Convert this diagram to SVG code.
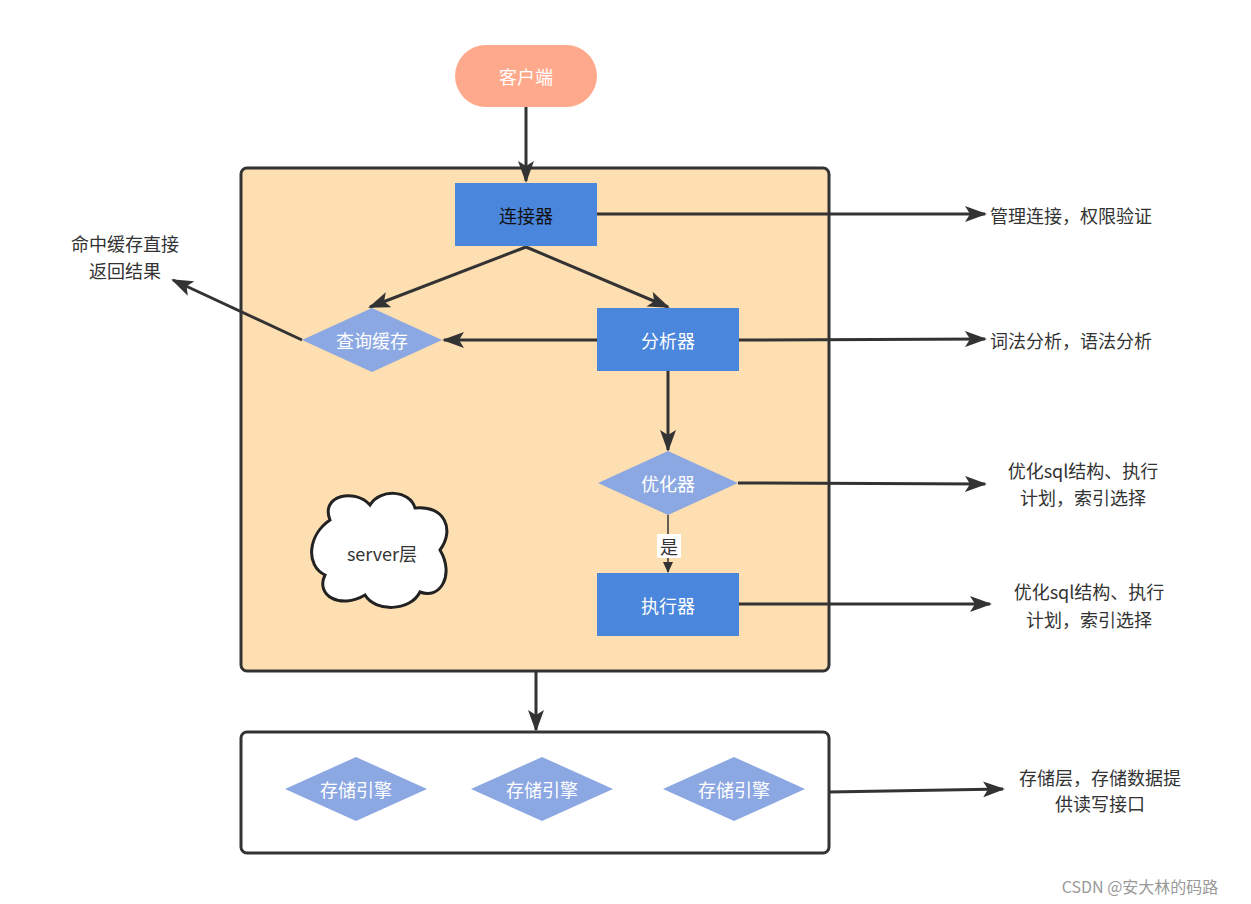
<svg xmlns="http://www.w3.org/2000/svg" width="1251" height="904" viewBox="0 0 1251 904">
<style>
text{font-family:"Noto Sans CJK SC","Liberation Sans",sans-serif;font-size:18px;dominant-baseline:central}
.w{fill:#fff;text-anchor:middle}
.k{fill:#333}
.c{text-anchor:middle}
.rect{fill:#4A86DB}
.dia{fill:#8CA8E2}
.e{stroke:#333;stroke-width:3;fill:none;marker-end:url(#a)}
</style>
<defs><marker id="a" markerWidth="8" markerHeight="8" refX="7" refY="4" orient="auto" markerUnits="userSpaceOnUse" viewBox="0 0 8 8"><path d="M0,0L8,4L0,8Z" fill="#333"/></marker>
<marker id="b" markerWidth="22" markerHeight="16" refX="20" refY="8" orient="auto" markerUnits="userSpaceOnUse"><path d="M0,0L22,8L0,16L5,8Z" fill="#333"/></marker></defs>
<rect width="1251" height="904" fill="#fff"/>
<g id="server"><rect x="241" y="168" width="588" height="503" rx="6" fill="#FEDFB2" stroke="#333" stroke-width="3"/></g>
<g id="storage"><rect x="241" y="732" width="588" height="121" rx="6" fill="#fff" stroke="#333" stroke-width="3"/></g>
<g id="edges" style="--m:url(#b)">
<path d="M526,107V181" stroke="#333" stroke-width="3" marker-end="url(#b)"/>
<path d="M597,214H985" stroke="#333" stroke-width="3" marker-end="url(#b)"/>
<path d="M526,247L370,307" stroke="#333" stroke-width="3" marker-end="url(#b)"/>
<path d="M526,247L668,307" stroke="#333" stroke-width="3" marker-end="url(#b)"/>
<path d="M597,340H444" stroke="#333" stroke-width="3" marker-end="url(#b)"/>
<path d="M302,340L173,280" stroke="#333" stroke-width="3" marker-end="url(#b)"/>
<path d="M739,340L985,339" stroke="#333" stroke-width="3" marker-end="url(#b)"/>
<path d="M668,371V450" stroke="#333" stroke-width="3" marker-end="url(#b)"/>
<path d="M738,483L985,484" stroke="#333" stroke-width="3" marker-end="url(#b)"/>
<path d="M668,515V572" stroke="#333" stroke-width="1.5"/>
<path d="M663,562L668,573L673,562Z" fill="#333"/>
<path d="M739,604L990,604" stroke="#333" stroke-width="3" marker-end="url(#b)"/>
<path d="M536,671V730" stroke="#333" stroke-width="3" marker-end="url(#b)"/>
<path d="M829,792L1003,789" stroke="#333" stroke-width="3" marker-end="url(#b)"/>
<rect x="657" y="534" width="24" height="24" fill="#fff"/>
<text x="669" y="546" class="c k">是</text>
</g>
<g id="client"><rect x="455" y="45" width="142" height="62" rx="31" fill="#FFA98C"/><text x="526" y="76" class="w">客户端</text></g>
<g id="connector"><rect x="455" y="183" width="142" height="63" class="rect"/><text x="526" y="215" class="c" fill="#111">连接器</text></g>
<g id="analyzer"><rect x="597" y="308" width="142" height="63" class="rect"/><text x="668" y="340" class="w">分析器</text></g>
<g id="cache"><path d="M302,340L372,308L442,340L372,372Z" class="dia"/><text x="372" y="340" class="w">查询缓存</text></g>
<g id="optimizer"><path d="M598,483L668,451L738,483L668,515Z" class="dia"/><text x="668" y="483" class="w">优化器</text></g>
<g id="executor"><rect x="597" y="573" width="142" height="63" class="rect"/><text x="668" y="605" class="w">执行器</text></g>
<g id="cloud"><path d="M330,520C320,495 355,488 370,505C380,488 410,490 415,508C445,505 455,530 440,550C455,575 440,600 420,592C410,612 375,612 365,595C340,610 315,595 325,575C305,565 308,535 330,520Z" fill="#fff" stroke="#222" stroke-width="3"/><text x="382" y="553" class="c k">server层</text></g>
<g id="e1"><path d="M285,789L356,757L427,789L356,821Z" class="dia"/><text x="356" y="789" class="w">存储引擎</text></g>
<g id="e2"><path d="M471,789L542,757L613,789L542,821Z" class="dia"/><text x="542" y="789" class="w">存储引擎</text></g>
<g id="e3"><path d="M663,789L734,757L805,789L734,821Z" class="dia"/><text x="734" y="789" class="w">存储引擎</text></g>
<g id="labels" class="k">
<text x="990" y="215" class="k">管理连接，权限验证</text>
<text x="125" y="243" class="c k">命中缓存直接</text>
<text x="125" y="270" class="c k">返回结果</text>
<text x="990" y="340" class="k">词法分析，语法分析</text>
<text x="1083" y="470" class="c k">优化sql结构、执行</text>
<text x="1083" y="497" class="c k">计划，索引选择</text>
<text x="1089" y="591" class="c k">优化sql结构、执行</text>
<text x="1089" y="619" class="c k">计划，索引选择</text>
<text x="1100" y="777" class="c k">存储层，存储数据提</text>
<text x="1100" y="803" class="c k">供读写接口</text>
<text x="1140" y="886" class="c" fill="#999" style="font-size:16px">CSDN @安大林的码路</text>
</g>
</svg>
